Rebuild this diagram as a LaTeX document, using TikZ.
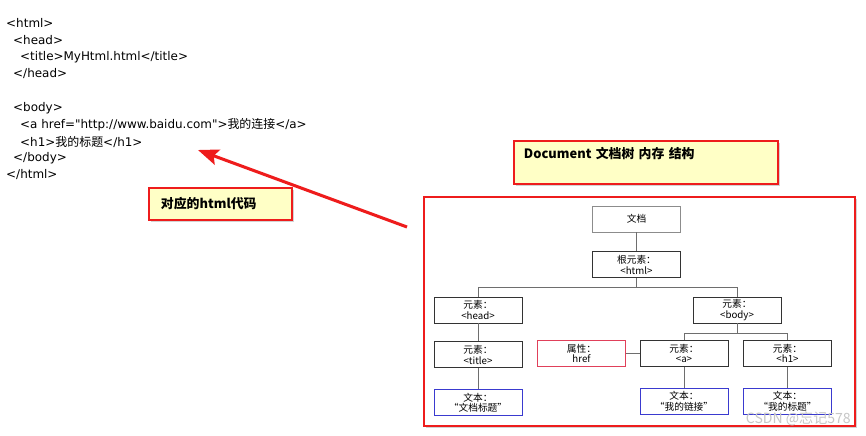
\documentclass[tikz,border=0pt]{standalone}
\usepackage{fontspec}
\setmainfont{DejaVu Sans}[Ligatures=TeXOff]
\newfontfamily\cjk{Noto Sans CJK SC}
\usetikzlibrary{positioning, arrows.meta, shadows}

\definecolor{notered}{HTML}{EE1C1C}
\definecolor{noteyellow}{HTML}{FFFFC6}
\definecolor{treegray}{HTML}{6E6E6E}
\definecolor{textblue}{HTML}{3A3ACF}
\definecolor{attrred}{HTML}{E0405A}

\newcommand{\px}{0.03cm}

\tikzset{
	codeline/.style={anchor=west, inner sep=0pt, font=\fontsize{10.2}{12}\selectfont},
	notebox/.style={draw=notered, line width=1.6pt, fill=noteyellow, anchor=north west, align=left,
		font=\cjk\bfseries\fontsize{11}{13}\selectfont,
		drop shadow={shadow xshift=2pt, shadow yshift=-2pt, opacity=0.35}},
	treebox/.style={draw=black!80, line width=0.8pt, fill=white, minimum width=88*\px,
		minimum height=26*\px, inner sep=0pt, align=center, font=\cjk\fontsize{8.3}{9}\selectfont},
	textbox/.style={treebox, draw=textblue},
	attrbox/.style={treebox, draw=attrred},
	treeline/.style={draw=treegray, line width=0.7pt},
	pointer/.style={notered, line width=2.6pt, -{Stealth[length=0.62cm, width=0.48cm, inset=0.12cm]}}
}

\begin{document}
\begin{tikzpicture}[x=\px, y=-\px]
	\useasboundingbox (0,0) rectangle (866,435);
	
	% html source
	\node [codeline] (l1) at (6,23) {<html>};
	\node [codeline] (l2) at (13,40) {<head>};
	\node [codeline] (l3) at (20,57) {<title>MyHtml.html</title>};
	\node [codeline] (l4) at (13,74) {</head>};
	\node [codeline] (l5) at (13,108) {<body>};
	\node [codeline] (l6) at (20,125) {<a href="http://www.baidu.com">{\cjk 我的连接}</a>};
	\node [codeline] (l7) at (20,142) {<h1>{\cjk 我的标题}</h1>};
	\node [codeline] (l8) at (13,158) {</body>};
	\node [codeline] (l9) at (6,175) {</html>};
	
	% notes
	\node [notebox, text width=119*\px, minimum height=32*\px, inner xsep=12*\px] (codenote) at (148,187) {对应的html代码};
	\node [notebox, text width=244*\px, inner xsep=10*\px, inner ysep=0.2cm, text height=0.34cm, text depth=0.55cm] (treenote) at (513,140) {Document 文档树 内存 结构};
	
	% frame of the tree
	\draw [notered, line width=1.6pt, fill=white, drop shadow={shadow xshift=2pt, shadow yshift=-2pt, opacity=0.35}] (424,197) rectangle (855,426);
	
	% pointer to the code
	\coordinate (arrowtail) at (407,227);
	\coordinate (arrowtip) at (198,150);
	\draw [pointer] (arrowtail) -- (arrowtip);
	
	% tree nodes
	\node [treebox, draw=black!45] (doc) at (636.5,219) {文档};
	\node [treebox, below=19*\px of doc] (root) {根元素：\\<html>};
	\node [treebox] (head) at (478,310) {元素：\\<head>};
	\node [treebox] (body) at (737,310) {元素：\\<body>};
	\node [treebox, below=18*\px of head] (title) {元素：\\<title>};
	\node [attrbox] (href) at (581.5,353.5) {属性：\\href};
	\node [treebox] (a) at (684,353.5) {元素：\\<a>};
	\node [treebox] (h1) at (787.5,353.5) {元素：\\<h1>};
	\node [textbox, below=21*\px of title] (titletext) {文本：\\“文档标题”};
	\node [textbox, below=21*\px of a] (atext) {文本：\\“我的链接”};
	\node [textbox, below=21*\px of h1] (h1text) {文本：\\“我的标题”};
	
	% tree lines
	\draw [treeline] (doc) -- (root);
	\draw [treeline] (root.south) -- ++(0,9) -| (head.north);
	\draw [treeline] (root.south) -- ++(0,9) -| (body.north);
	\draw [treeline] (head) -- (title);
	\draw [treeline] (title) -- (titletext);
	\draw [treeline] (body.south) -- ++(0,10) -| (a.north);
	\draw [treeline] (body.south) -- ++(0,10) -| (h1.north);
	\draw [treeline] (href) -- (a);
	\draw [treeline] (a) -- (atext);
	\draw [treeline] (h1) -- (h1text);
	
	% watermark
	\node [anchor=east, text=black!22, font=\cjk\fontsize{12}{14}\selectfont, inner sep=0pt] (mark) at (851,419) {CSDN @忘记578};
\end{tikzpicture}
\end{document}
